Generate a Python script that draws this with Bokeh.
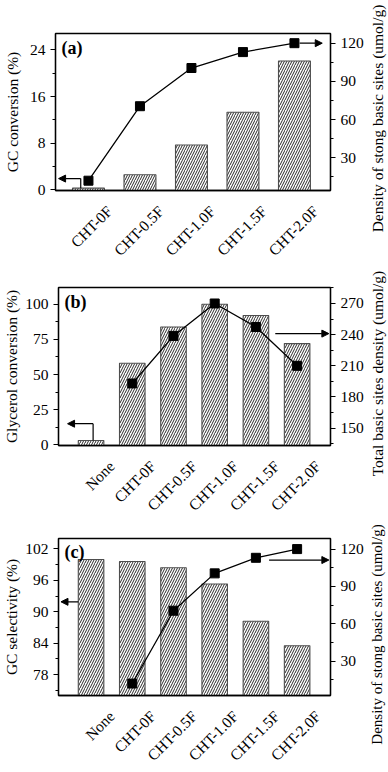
import math
from bokeh.plotting import figure
from bokeh.models import (Range1d, LinearAxis, FixedTicker, SingleIntervalTicker,
                          Arrow, NormalHead, Label, ColumnDataSource)
from bokeh.layouts import column, row
from bokeh.core.properties import value
from bokeh.embed import file_html
from bokeh.resources import INLINE

# ---------------- data ----------------
cats_a = ["CHT-0F", "CHT-0.5F", "CHT-1.0F", "CHT-1.5F", "CHT-2.0F"]
cats_bc = ["None", "CHT-0F", "CHT-0.5F", "CHT-1.0F", "CHT-1.5F", "CHT-2.0F"]
line_cats = ["CHT-0F", "CHT-0.5F", "CHT-1.0F", "CHT-1.5F", "CHT-2.0F"]

gc_conversion = [0.3, 2.6, 7.7, 13.3, 22.1]              # (a) bars, %
strong_sites = [12, 70.5, 100.5, 113, 120]               # (a),(c) squares, umol/g
glycerol_conversion = [3.1, 58, 83.8, 100, 92, 72]       # (b) bars, %
total_sites = [193, 238.8, 270, 247.4, 210]              # (b) squares, umol/g
gc_selectivity = [100.0, 99.6, 98.4, 95.3, 88.2, 83.5]   # (c) bars, %

SERIF = "Liberation Serif"
W_MAIN = 366
W_SIDE = 22
FRAME_W = 276


def panel(cats, bar_vals, line_vals, xr, yl, yr, l_int, r_int,
          l_title, tag, height, top, bottom, frame_h, arrows, l_title_standoff):
    p = figure(width=W_MAIN, height=height, output_backend="svg", toolbar_location=None,
               x_range=Range1d(*xr), y_range=Range1d(*yl), x_axis_location=None,
               min_border_left=54, min_border_right=36,
               min_border_top=top, min_border_bottom=bottom)
    px_per_cat = FRAME_W / (xr[1] - xr[0])
    shift = 21 / px_per_cat
    p.extra_y_ranges = {"right": Range1d(*yr)}
    p.extra_x_ranges = {"lab": Range1d(xr[0] - shift, xr[1] - shift)}
    p.xgrid.visible = False
    p.ygrid.visible = False
    p.outline_line_color = "black"
    p.outline_line_width = 1.3
    p.background_fill_color = "white"
    p.border_fill_color = "white"

    xs = list(range(len(cats)))
    src = ColumnDataSource(dict(x=xs, v=bar_vals))
    p.vbar(x="x", top="v", bottom=yl[0], width=0.62, source=src,
           fill_color="white", line_color="#4d4d4d", line_width=1.1,
           hatch_pattern="/", hatch_color="#2b2b2b", hatch_scale=5, hatch_weight=1)

    lx = [cats.index(c) for c in line_cats]
    lsrc = ColumnDataSource(dict(x=lx, v=line_vals))
    p.line(x="x", y="v", source=lsrc, y_range_name="right", line_color="black", line_width=1.3)
    p.scatter(x="x", y="v", source=lsrc, y_range_name="right", marker="square", size=9,
              fill_color="black", line_color="black")

    # category axis (labels sit down-right of each bar, as in the original)
    xa = LinearAxis(x_range_name="lab", ticker=FixedTicker(ticks=xs))
    xa.major_label_overrides = {i: c for i, c in enumerate(cats)}
    xa.major_label_orientation = math.pi / 4
    xa.major_tick_line_color = None
    xa.major_tick_out = 0
    xa.major_tick_in = 0
    xa.minor_tick_line_color = None
    xa.axis_line_color = "black"
    xa.axis_line_width = 1.3
    xa.major_label_text_font = SERIF
    xa.major_label_text_font_size = "15.5px"
    xa.major_label_text_color = "black"
    xa.major_label_standoff = 18
    p.add_layout(xa, "below")

    # left axis
    ya = p.yaxis[0]
    ya.ticker = SingleIntervalTicker(interval=l_int, num_minor_ticks=2)
    ya.axis_label = l_title
    ya.axis_label_text_font_size = "15.5px"

    ra = LinearAxis(y_range_name="right",
                    ticker=SingleIntervalTicker(interval=r_int, num_minor_ticks=2))
    p.add_layout(ra, "right")

    for ax in (ya, ra):
        ax.axis_line_color = "black"
        ax.axis_line_width = 1.3
        ax.major_tick_out = 5
        ax.major_tick_in = 0
        ax.minor_tick_out = 3
        ax.minor_tick_in = 0
        ax.major_tick_line_color = "black"
        ax.minor_tick_line_color = "black"
        ax.major_label_text_font = SERIF
        ax.major_label_text_font_size = "15.5px"
        ax.major_label_text_color = "black"
        ax.major_label_standoff = 5
        ax.axis_label_text_font = SERIF
        ax.axis_label_text_font_style = "normal"
        ax.axis_label_text_color = "black"
    ya.axis_label_standoff = l_title_standoff

    # panel tag
    ppu = frame_h / (yl[1] - yl[0])
    p.add_layout(Label(x=xr[0], y=yl[1] - 4 / ppu, x_offset=6, text=tag,
                       text_font=SERIF, text_font_style="bold", text_font_size="18px",
                       text_baseline="top", text_color="black"))

    # pointer arrows (annotations)
    for (x0, y0, x1, y1, rng, head) in arrows:
        kw = {} if rng == "left" else {"y_range_name": "right"}
        p.add_layout(Arrow(x_start=x0, y_start=y0, x_end=x1, y_end=y1,
                           line_color="black", line_width=1.2,
                           end=(NormalHead(size=7, fill_color="black", line_color="black",
                                           line_width=1) if head else None), **kw))
    return p


def side_title(text, height, center_from_top, size):
    """Right-hand axis title, reading bottom-to-top as in the original figure."""
    t = figure(width=W_SIDE, height=height, output_backend="svg", toolbar_location=None,
               x_range=Range1d(0, W_SIDE), y_range=Range1d(0, height),
               x_axis_location=None, y_axis_location=None, min_border=0)
    t.outline_line_color = None
    t.xgrid.visible = False
    t.ygrid.visible = False
    t.background_fill_color = "white"
    t.border_fill_color = "white"
    t.text(x=[10.5], y=[height - center_from_top], text=[text], angle=math.pi / 2,
           text_align="center", text_baseline="middle", text_font=value(SERIF),
           text_font_size=size, text_color="black")
    # wrapped in its own column so its frame is not aligned with the chart's frame
    return column(t, spacing=0)


HA, HB, HC = 268, 255, 249

pa = panel(cats_a, gc_conversion, strong_sites,
           (-0.64, 4.70), (-0.1, 26.8), (4.3, 127.6), 8, 30,
           "GC conversion (%)", "(a)", HA, 33, 78, 157,
           [(-0.15, 0.3, -0.15, 1.94, "left", False),
            (-0.15, 1.94, -0.58, 1.94, "left", True),
            (4.1, 120, 4.54, 120, "right", True)], 6)
ta = side_title("Density of stong basic sites (umol/g)", HA, 118, "15.5px")

pb = panel(cats_bc, glycerol_conversion, total_sites,
           (-0.79, 5.81), (-0.5, 111.9), (133.3, 285.4), 25, 30,
           "Glycerol conversion (%)", "(b)", HB, 19, 78, 158,
           [(0.05, 3.1, 0.05, 15, "left", False),
            (0.05, 15, -0.57, 15, "left", True),
            (4.47, 241, 5.77, 241, "right", True)], 2)
tb = side_title("Total basic sites density (umol/g)", HB, 105, "15.5px")

pc = panel(cats_bc, gc_selectivity, strong_sites,
           (-0.79, 5.81), (74.0, 104.0), (2.4, 128.5), 6, 30,
           "GC selectivity (%)", "(c)", HC, 15, 76, 158,
           [(-0.31, 91.9, -0.73, 91.9, "left", True),
            (4.32, 111.2, 5.77, 111.2, "right", True)], 2)
tc = side_title("Density of stong basic sites (umol/g)", HC, 111, "15px")

layout = column(row(pa, ta, spacing=0), row(pb, tb, spacing=0), row(pc, tc, spacing=0),
                spacing=0)
open("out.html", "w").write(file_html(layout, INLINE))
